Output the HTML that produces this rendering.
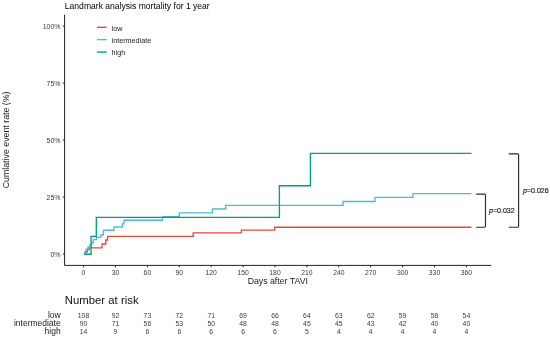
<!DOCTYPE html>
<html><head><meta charset="utf-8"><title>Landmark analysis mortality for 1 year</title>
<style>
html,body{margin:0;padding:0;background:#fff;}
body{width:550px;height:338px;overflow:hidden;}
svg{display:block;font-family:"Liberation Sans",sans-serif;}
</style></head><body>
<svg width="550" height="338" viewBox="0 0 550 338">
<rect width="550" height="338" fill="#fff"/>

<text x="64.8" y="9.0" font-size="8.59" fill="#000">Landmark analysis mortality for 1 year</text>
<g stroke="#222" stroke-width="1" fill="none">
<path d="M64.6,14.6V265.4H491.2"/>
<path d="M62.8,254.0H64.6"/>
<path d="M62.8,197.0H64.6"/>
<path d="M62.8,140.0H64.6"/>
<path d="M62.8,83.0H64.6"/>
<path d="M62.8,26.0H64.6"/>
<path d="M83.5,265.4V267.3"/>
<path d="M115.5,265.4V267.3"/>
<path d="M147.4,265.4V267.3"/>
<path d="M179.3,265.4V267.3"/>
<path d="M211.2,265.4V267.3"/>
<path d="M243.1,265.4V267.3"/>
<path d="M275.0,265.4V267.3"/>
<path d="M306.9,265.4V267.3"/>
<path d="M338.8,265.4V267.3"/>
<path d="M370.7,265.4V267.3"/>
<path d="M402.6,265.4V267.3"/>
<path d="M434.5,265.4V267.3"/>
<path d="M466.4,265.4V267.3"/>
</g>
<g font-size="7" fill="#3a3a3a" text-anchor="end">
<text x="60.6" y="256.8">0%</text>
<text x="60.6" y="199.8">25%</text>
<text x="60.6" y="142.8">50%</text>
<text x="60.6" y="85.8">75%</text>
<text x="60.6" y="28.8">100%</text>
</g>
<g font-size="6.8" fill="#3a3a3a" text-anchor="middle">
<text x="83.5" y="274.5">0</text>
<text x="115.5" y="274.5">30</text>
<text x="147.4" y="274.5">60</text>
<text x="179.3" y="274.5">90</text>
<text x="211.2" y="274.5">120</text>
<text x="243.1" y="274.5">150</text>
<text x="275.0" y="274.5">180</text>
<text x="306.9" y="274.5">210</text>
<text x="338.8" y="274.5">240</text>
<text x="370.7" y="274.5">270</text>
<text x="402.6" y="274.5">300</text>
<text x="434.5" y="274.5">330</text>
<text x="466.4" y="274.5">360</text>
</g>
<text x="277.8" y="284.2" font-size="8.75" fill="#1a1a1a" text-anchor="middle">Days after TAVI</text>
<text transform="translate(9.2,139.9) rotate(-90)" font-size="8.8" fill="#1a1a1a" text-anchor="middle">Cumlative event rate (%)</text>
<g font-size="7.2" fill="#1a1a1a">
<path d="M97,27.3H106.7" stroke="#E64B35" stroke-width="1.35"/>
<text x="111.6" y="30.6">low</text>
<path d="M97,39.6H106.7" stroke="#4DBBD5" stroke-width="1.35"/>
<text x="111.6" y="42.6">intermediate</text>
<path d="M97,52.1H106.7" stroke="#00A087" stroke-width="1.35"/>
<text x="111.6" y="55.0">high</text>
</g>
<g fill="none" stroke-width="1.35" stroke-linejoin="miter">
<path d="M84.1,254.2H85.5V252.0H87.3V249.9H89.2V247.8H102.0V244.0H105.8V240.0H107.6V236.3H193.2V232.8H241.3V230.1H274.6V227.2H471.5" stroke="#E64B35"/>
<path d="M84.1,254.2H84.9V251.7H86.0V249.2H88.0V246.9H90.0V244.6H91.9V242.2H93.4V239.6H96.6V237.3H100.9V235.0H103.4V230.2H114.0V227.0H122.3V223.8H124.1V220.2H162.5V216.6H179.3V212.9H212.4V209.0H225.7V205.3H343.0V201.5H375.0V197.4H412.9V193.6H471.5" stroke="#4DBBD5"/>
<path d="M84.1,254.2H91.1V236.4H96.3V217.3H279.4V185.7H310.4V153.4H471.5" stroke="#00A087"/>
</g>
<g fill="none" stroke="#2a2a2a" stroke-width="1.15" stroke-linejoin="round">
<path d="M476.2,194.1H484.6Q485.5,194.1 485.5,195V226.3Q485.5,227.2 484.6,227.2H476.2"/>
<path d="M508.8,153.9H517.6Q518.6,153.9 518.6,154.9V226.2Q518.6,227.2 517.6,227.2H508.8"/>
</g>
<g font-size="7.05" fill="#111" stroke="#111" stroke-width="0.15">
<text x="489" y="213"><tspan font-style="italic">p</tspan>=0.032</text>
<text x="523" y="193"><tspan font-style="italic">p</tspan>=0.026</text>
</g>
<text x="64.8" y="303.8" font-size="11.35" fill="#111">Number at risk</text>
<g font-size="8.47" fill="#1a1a1a" text-anchor="end">
<text x="60.6" y="318">low</text>
<text x="60.6" y="326">intermediate</text>
<text x="60.6" y="334">high</text>
</g>
<g font-size="6.8" fill="#3a3a3a" text-anchor="middle">
<text x="83.5" y="318">108</text>
<text x="115.5" y="318">92</text>
<text x="147.4" y="318">73</text>
<text x="179.3" y="318">72</text>
<text x="211.2" y="318">71</text>
<text x="243.1" y="318">69</text>
<text x="275.0" y="318">66</text>
<text x="306.9" y="318">64</text>
<text x="338.8" y="318">63</text>
<text x="370.7" y="318">62</text>
<text x="402.6" y="318">59</text>
<text x="434.5" y="318">58</text>
<text x="466.4" y="318">54</text>
<text x="83.5" y="326">90</text>
<text x="115.5" y="326">71</text>
<text x="147.4" y="326">56</text>
<text x="179.3" y="326">53</text>
<text x="211.2" y="326">50</text>
<text x="243.1" y="326">48</text>
<text x="275.0" y="326">48</text>
<text x="306.9" y="326">45</text>
<text x="338.8" y="326">45</text>
<text x="370.7" y="326">43</text>
<text x="402.6" y="326">42</text>
<text x="434.5" y="326">40</text>
<text x="466.4" y="326">40</text>
<text x="83.5" y="334">14</text>
<text x="115.5" y="334">9</text>
<text x="147.4" y="334">6</text>
<text x="179.3" y="334">6</text>
<text x="211.2" y="334">6</text>
<text x="243.1" y="334">6</text>
<text x="275.0" y="334">6</text>
<text x="306.9" y="334">5</text>
<text x="338.8" y="334">4</text>
<text x="370.7" y="334">4</text>
<text x="402.6" y="334">4</text>
<text x="434.5" y="334">4</text>
<text x="466.4" y="334">4</text>
</g>
</svg></body></html>
